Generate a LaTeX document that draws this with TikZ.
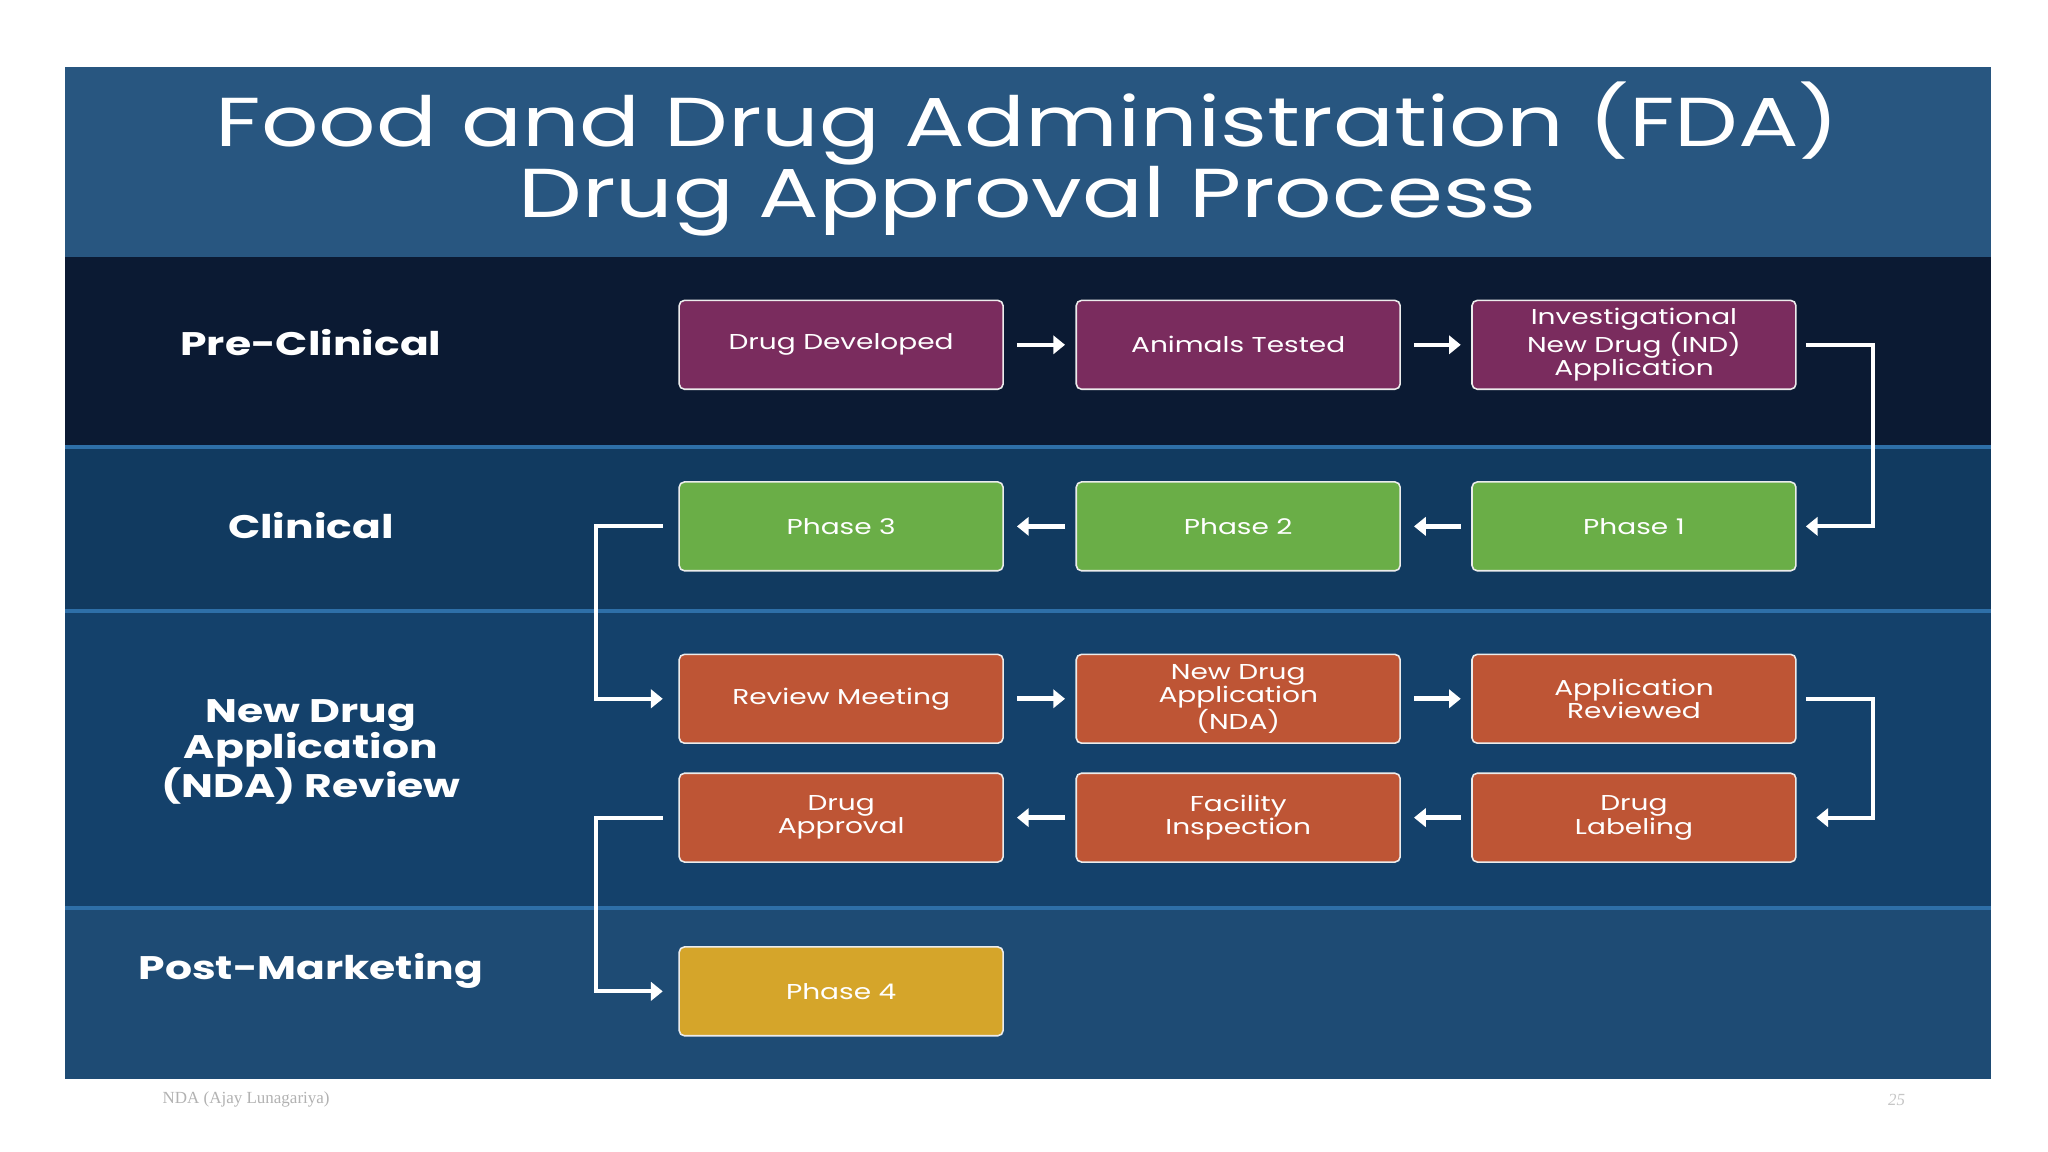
\documentclass[tikz,border=0pt]{standalone}
\usepackage{fontspec}
\setmainfont{Poppins}[FakeStretch=1.3]
\newfontfamily\footfont{Liberation Serif}
\usetikzlibrary{arrows.meta}
\definecolor{titlebg}{HTML}{285680}
\definecolor{prebg}{HTML}{0B1A33}
\definecolor{clinbg}{HTML}{113A60}
\definecolor{ndabg}{HTML}{14416B}
\definecolor{postbg}{HTML}{1E4B74}
\definecolor{sepline}{HTML}{2E6FA8}
\definecolor{purp}{HTML}{7A2C5E}
\definecolor{grn}{HTML}{6AAE47}
\definecolor{org}{HTML}{BE5535}
\definecolor{yel}{HTML}{D5A52A}
\tikzset{
 box/.style={draw=white!85!gray, line width=1.2pt, rounded corners=4pt, minimum width=248pt, minimum height=68pt, text=white, align=center, font=\fontsize{16.5}{15}\selectfont, inner sep=2pt},
 lab/.style={text=white, align=center, font=\bfseries\fontsize{25}{27}\selectfont},
 arr/.style={white, line width=3.5pt, -{Triangle[length=9pt,width=14pt]}},
 elb/.style={white, line width=3pt, -{Triangle[length=9pt,width=14pt]}}
}
\begin{document}
\begin{tikzpicture}[x=1pt,y=-1pt]
\useasboundingbox (0,0) rectangle (1568,882);
\fill[white] (0,0) rectangle (1568,882);
\fill[titlebg] (50,51) rectangle (1524,197);
\fill[prebg] (50,197) rectangle (1524,342);
\fill[clinbg] (50,342) rectangle (1524,468);
\fill[ndabg] (50,468) rectangle (1524,695);
\fill[postbg] (50,695) rectangle (1524,826);
\foreach \yy in {342,468,695} \draw[sepline, line width=3pt] (50,\yy) -- (1524,\yy);
\node[text=white, align=center, font=\fontsize{53}{49}\selectfont] (title) at (787,122) {Food and Drug Administration (FDA)\\Drug Approval Process};
\node[lab] (lpre) at (238,262) {Pre-Clinical};
\node[lab] (lcli) at (238,402) {Clinical};
\node[lab] (lnda) at (238,576) {New Drug\\Application\\(NDA) Review};
\node[lab] (lpost) at (238,743) {Post-Marketing};
\node[box, fill=purp] (dd) at (644,264) {Drug Developed};
\node[box, fill=purp] (at) at (948,264) {Animals Tested};
\node[box, fill=purp] (ind) at (1251,264) {Investigational\\New Drug (IND)\\Application};
\node[box, fill=grn] (p3) at (644,403) {Phase 3};
\node[box, fill=grn] (p2) at (948,403) {Phase 2};
\node[box, fill=grn] (p1) at (1251,403) {Phase 1};
\node[box, fill=org] (rm) at (644,535) {Review Meeting};
\node[box, fill=org] (nda) at (948,535) {New Drug\\Application\\(NDA)};
\node[box, fill=org] (ar) at (1251,535) {Application\\Reviewed};
\node[box, fill=org] (da) at (644,626) {Drug\\Approval};
\node[box, fill=org] (fi) at (948,626) {Facility\\Inspection};
\node[box, fill=org] (dl) at (1251,626) {Drug\\Labeling};
\node[box, fill=yel] (p4) at (644,759) {Phase 4};
\draw[arr] ([xshift=10pt]dd.east) -- ([xshift=-8pt]at.west);
\draw[arr] ([xshift=10pt]at.east) -- ([xshift=-8pt]ind.west);
\draw[arr] ([xshift=-8pt]p1.west) -- ([xshift=10pt]p2.east);
\draw[arr] ([xshift=-8pt]p2.west) -- ([xshift=10pt]p3.east);
\draw[arr] ([xshift=10pt]rm.east) -- ([xshift=-8pt]nda.west);
\draw[arr] ([xshift=10pt]nda.east) -- ([xshift=-8pt]ar.west);
\draw[arr] ([xshift=-8pt]dl.west) -- ([xshift=10pt]fi.east);
\draw[arr] ([xshift=-8pt]fi.west) -- ([xshift=10pt]da.east);
\draw[elb] ([xshift=7pt]ind.east) -- (1434,264) -- (1434,403) -- ([xshift=7pt]p1.east);
\draw[elb] ([xshift=7pt]ar.east) -- (1434,535) -- (1434,626) -- ([xshift=15pt]dl.east);
\draw[elb] ([xshift=-12pt]p3.west) -- (456,403) -- (456,535) -- ([xshift=-12pt]rm.west);
\draw[elb] ([xshift=-12pt]da.west) -- (456,626) -- (456,759) -- ([xshift=-12pt]p4.west);
\node[text=gray!60, font=\footfont\fontsize{13}{13}\selectfont, anchor=west] (foot) at (121,842) {NDA (Ajay Lunagariya)};
\node[text=gray!45, font=\footfont\itshape\fontsize{13}{13}\selectfont] (pg) at (1452,842) {25};
\end{tikzpicture}
\end{document}
